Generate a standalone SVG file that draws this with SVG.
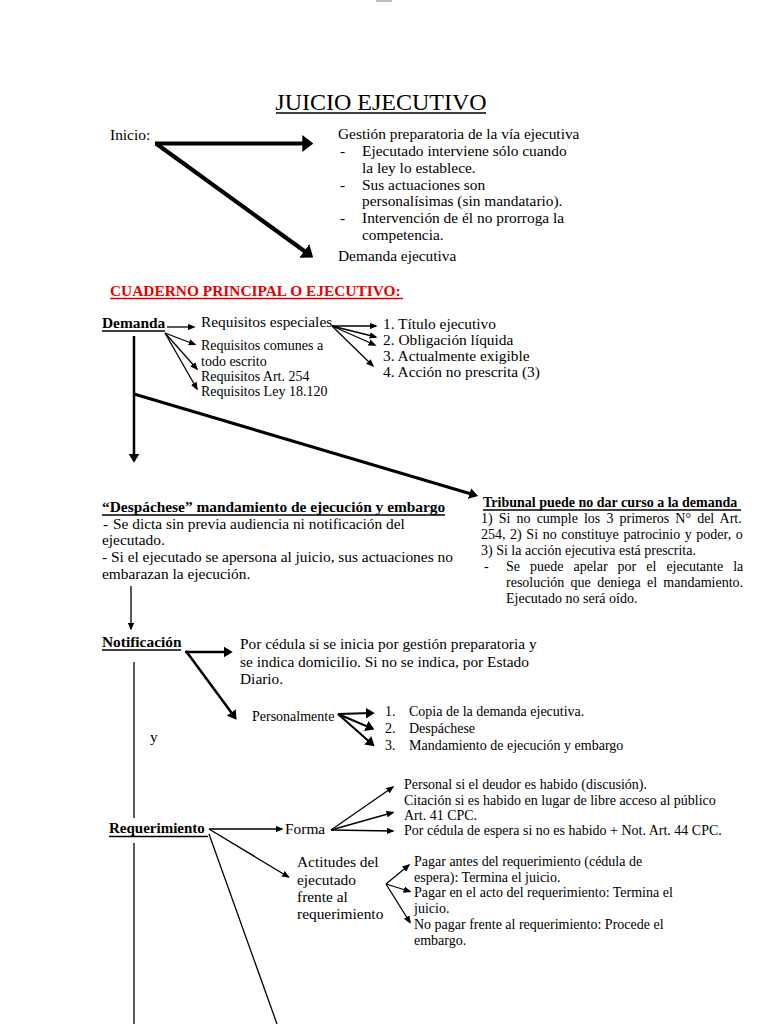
<svg xmlns="http://www.w3.org/2000/svg" width="768" height="1024" viewBox="0 0 768 1024">
<style>
text{font-family:"Liberation Serif","Times New Roman",serif;fill:#000;font-size:15.4px}
.s14{font-size:14px}
.b{font-weight:bold}
.red{fill:#e60000}
.ul{stroke:#000;stroke-width:1.3}
.ulr{stroke:#e60000;stroke-width:1.3}
.w4{stroke:#000;stroke-width:4.2;fill:none}
.w3{stroke:#000;stroke-width:3;fill:none}
.w25{stroke:#000;stroke-width:2.5;fill:none}
.w2{stroke:#000;stroke-width:2;fill:none}
.w1{stroke:#000;stroke-width:1.3;fill:none}
</style>
<defs>
<marker id="big" viewBox="0 0 10 10" refX="7" refY="5" markerWidth="11" markerHeight="17" markerUnits="userSpaceOnUse" orient="auto" preserveAspectRatio="none"><path d="M0,0 L10,5 L0,10 z" fill="#000"/></marker>
<marker id="med" viewBox="0 0 10 10" refX="7" refY="5" markerWidth="9" markerHeight="11" markerUnits="userSpaceOnUse" orient="auto" preserveAspectRatio="none"><path d="M0,0 L10,5 L0,10 z" fill="#000"/></marker>
<marker id="sm" viewBox="0 0 10 10" refX="8" refY="5" markerWidth="8" markerHeight="6.5" markerUnits="userSpaceOnUse" orient="auto" preserveAspectRatio="none"><path d="M0,0 L10,5 L0,10 z" fill="#000"/></marker>
</defs>
<rect width="768" height="1024" fill="#fff"/>
<rect x="376" y="0" width="16" height="2" fill="#bbb"/>

<g id="title">
<text x="381" y="110" text-anchor="middle" style="font-size:24px">JUICIO EJECUTIVO</text>
<line class="ul" x1="276" y1="113" x2="486" y2="113"/>
</g>

<g id="inicio"><text x="110" y="140">Inicio:</text></g>

<g id="gestion">
<text x="338" y="139">Gestión preparatoria de la vía ejecutiva</text>
<text x="340" y="156">-</text><text x="362" y="156">Ejecutado interviene sólo cuando</text>
<text x="362" y="173">la ley lo establece.</text>
<text x="340" y="190">-</text><text x="362" y="190">Sus actuaciones son</text>
<text x="362" y="206">personalísimas (sin mandatario).</text>
<text x="340" y="223">-</text><text x="362" y="223">Intervención de él no prorroga la</text>
<text x="362" y="240">competencia.</text>
</g>

<g id="demanda-ejecutiva"><text x="338" y="261">Demanda ejecutiva</text></g>

<g id="cuaderno">
<text x="110" y="296" class="b red">CUADERNO PRINCIPAL O EJECUTIVO:</text>
<line class="ulr" x1="110" y1="298.5" x2="403" y2="298.5"/>
</g>

<g id="demanda">
<text x="102" y="328" class="b">Demanda</text>
<line class="ul" x1="102" y1="331" x2="165" y2="331" style="stroke-width:1.6"/>
</g>

<g id="requisitos-especiales"><text x="201" y="327">Requisitos especiales</text></g>

<g id="requisitos-lista">
<text x="201" y="350" class="s14">Requisitos comunes a</text>
<text x="201" y="366" class="s14">todo escrito</text>
<text x="201" y="381" class="s14">Requisitos Art. 254</text>
<text x="201" y="396" class="s14">Requisitos Ley 18.120</text>
</g>

<g id="requisitos-numerados">
<text x="383" y="329">1. Título ejecutivo</text>
<text x="383" y="345">2. Obligación líquida</text>
<text x="383" y="361">3. Actualmente exigible</text>
<text x="383" y="377">4. Acción no prescrita (3)</text>
</g>

<g id="despachese">
<text x="102" y="512" class="b">“Despáchese” mandamiento de ejecución y embargo</text>
<line class="ul" x1="102" y1="515" x2="445" y2="515"/>
<text x="103" y="529">-</text><text x="113" y="529">Se dicta sin previa audiencia ni notificación del</text>
<text x="102" y="545">ejecutado.</text>
<text x="102" y="562">- Si el ejecutado se apersona al juicio, sus actuaciones no</text>
<text x="102" y="579">embarazan la ejecución.</text>
</g>

<g id="tribunal">
<text x="483" y="507" class="s14 b">Tribunal puede no dar curso a la demanda</text>
<line class="ul" x1="483" y1="510" x2="741" y2="510"/>
<text x="481" y="523" class="s14" style="word-spacing:2.6px">1) Si no cumple los 3 primeros N° del Art.</text>
<text x="481" y="539" class="s14" style="word-spacing:1.1px">254, 2) Si no constituye patrocinio y poder, o</text>
<text x="481" y="555" class="s14">3) Si la acción ejecutiva está prescrita.</text>
<text x="484" y="571" class="s14">-</text>
<text x="506" y="571" class="s14" style="word-spacing:6.5px">Se puede apelar por el ejecutante la</text>
<text x="506" y="587" class="s14" style="word-spacing:2.8px">resolución que deniega el mandamiento.</text>
<text x="506" y="603" class="s14">Ejecutado no será oído.</text>
</g>

<g id="notificacion">
<text x="102" y="647" class="b">Notificación</text>
<line class="ul" x1="102" y1="650" x2="181" y2="650"/>
</g>

<g id="por-cedula">
<text x="240" y="649">Por cédula si se inicia por gestión preparatoria y</text>
<text x="240" y="667">se indica domicilio. Si no se indica, por Estado</text>
<text x="240" y="684">Diario.</text>
</g>

<g id="personalmente"><text x="252" y="721" class="s14">Personalmente</text></g>

<g id="personalmente-lista">
<text x="385" y="716" class="s14">1.</text><text x="409" y="716" class="s14">Copia de la demanda ejecutiva.</text>
<text x="385" y="733" class="s14">2.</text><text x="409" y="733" class="s14">Despáchese</text>
<text x="385" y="750" class="s14">3.</text><text x="409" y="750" class="s14">Mandamiento de ejecución y embargo</text>
</g>

<g id="y-label"><text x="150" y="742">y</text></g>

<g id="requerimiento">
<text x="109" y="833" class="b" style="font-size:15px">Requerimiento</text>
<line class="ul" x1="109" y1="836.5" x2="208" y2="836.5" style="stroke-width:1.6"/>
</g>

<g id="forma"><text x="285" y="834">Forma</text></g>

<g id="forma-lista">
<text x="404" y="789" class="s14">Personal si el deudor es habido (discusión).</text>
<text x="404" y="805" class="s14">Citación si es habido en lugar de libre acceso al público</text>
<text x="404" y="820" class="s14">Art. 41 CPC.</text>
<text x="404" y="835" class="s14">Por cédula de espera si no es habido + Not. Art. 44 CPC.</text>
</g>

<g id="actitudes">
<text x="297" y="867">Actitudes del</text>
<text x="297" y="885">ejecutado</text>
<text x="297" y="902">frente al</text>
<text x="297" y="919">requerimiento</text>
</g>

<g id="actitudes-lista">
<text x="414" y="866" class="s14">Pagar antes del requerimiento (cédula de</text>
<text x="414" y="882" class="s14">espera): Termina el juicio.</text>
<text x="414" y="897" class="s14">Pagar en el acto del requerimiento: Termina el</text>
<text x="414" y="913" class="s14">juicio.</text>
<text x="414" y="929" class="s14">No pagar frente al requerimiento: Procede el</text>
<text x="414" y="945" class="s14">embargo.</text>
</g>

<g id="connectors">
<line class="w4" x1="155" y1="143.5" x2="310" y2="143.5" marker-end="url(#big)"/>
<line class="w4" x1="156" y1="143.5" x2="310.5" y2="255.5" marker-end="url(#big)"/>

<line class="w1" x1="167" y1="327" x2="194" y2="327" marker-end="url(#sm)"/>
<line class="w1" x1="165" y1="333" x2="195" y2="344.5" marker-end="url(#sm)"/>
<line class="w1" x1="165" y1="333" x2="197" y2="369" marker-end="url(#sm)"/>
<line class="w1" x1="165" y1="333" x2="197" y2="389" marker-end="url(#sm)"/>

<line class="w1" x1="332" y1="326" x2="376" y2="326" marker-end="url(#sm)"/>
<line class="w1" x1="332" y1="326" x2="376" y2="337" marker-end="url(#sm)"/>
<line class="w1" x1="332" y1="326" x2="375" y2="345" marker-end="url(#sm)"/>
<line class="w1" x1="332" y1="326" x2="373" y2="366" marker-end="url(#sm)"/>

<line class="w25" x1="134" y1="336" x2="134" y2="460" marker-end="url(#med)"/>
<line class="w3" x1="134" y1="394" x2="475.5" y2="495.2" marker-end="url(#med)"/>

<line class="w1" x1="131" y1="586" x2="131" y2="629" marker-end="url(#sm)"/>

<line class="w25" x1="185" y1="652" x2="230" y2="652" marker-end="url(#med)"/>
<line class="w25" x1="186" y1="651" x2="235" y2="717.5" marker-end="url(#med)"/>

<line class="w2" x1="338" y1="714" x2="372" y2="713" marker-end="url(#med)"/>
<line class="w2" x1="338" y1="714" x2="372" y2="728.5" marker-end="url(#med)"/>
<line class="w2" x1="338" y1="714" x2="372.5" y2="744.5" marker-end="url(#med)"/>

<line class="w1" x1="134" y1="662" x2="134" y2="818"/>
<line class="w1" x1="134" y1="843" x2="134" y2="1024"/>

<line class="w1" x1="209" y1="829" x2="282" y2="829" marker-end="url(#sm)"/>
<line class="w1" x1="209" y1="829" x2="288.5" y2="877" marker-end="url(#sm)"/>
<line class="w1" x1="209" y1="834" x2="277" y2="1024"/>

<line class="w1" x1="331" y1="830" x2="393" y2="787" marker-end="url(#sm)"/>
<line class="w1" x1="331" y1="830" x2="393" y2="812.5" marker-end="url(#sm)"/>
<line class="w1" x1="331" y1="830" x2="393" y2="831" marker-end="url(#sm)"/>

<line class="w1" x1="386" y1="884" x2="409" y2="865" marker-end="url(#sm)"/>
<line class="w1" x1="386" y1="884" x2="410" y2="891.5" marker-end="url(#sm)"/>
<line class="w1" x1="386" y1="884" x2="410" y2="922.5" marker-end="url(#sm)"/>
</g>
</svg>
